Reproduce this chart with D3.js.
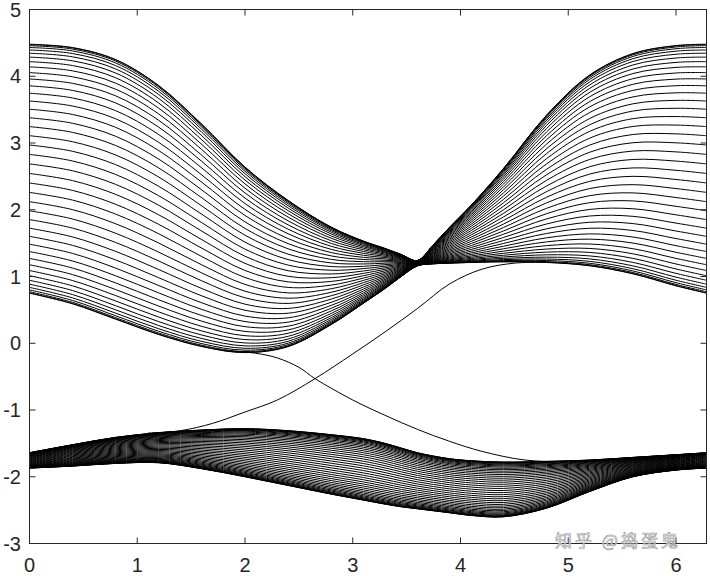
<!DOCTYPE html>
<html><head><meta charset="utf-8">
<script src="https://cdn.jsdelivr.net/npm/d3@7"></script>
<style>body{margin:0;background:#fff}svg{display:block}</style>
</head><body><svg id="c" width="710" height="576"></svg>
<script>
// ---- data ----
const gridX      = [0, 0.4, 0.8, 1.2, 1.6, 2.0, 2.4, 2.8, 3.1, 3.3, 3.45, 3.6, 3.75, 3.9, 4.1, 4.4, 4.8, 5.2, 5.6, 6.0, 6.2832];
const upperTop   = [4.48, 4.43, 4.25, 3.86, 3.28, 2.64, 2.14, 1.74, 1.53, 1.42, 1.33, 1.24, 1.48, 1.74, 2.07, 2.62, 3.42, 4.02, 4.34, 4.46, 4.48];
const upperBot   = [0.75, 0.59, 0.36, 0.13, -0.05, -0.14, -0.05, 0.28, 0.60, 0.82, 1.00, 1.16, 1.19, 1.20, 1.21, 1.22, 1.21, 1.16, 1.04, 0.86, 0.75];
const lowerTop   = [-1.64, -1.52, -1.41, -1.34, -1.30, -1.28, -1.31, -1.37, -1.43, -1.50, -1.57, -1.64, -1.69, -1.73, -1.76, -1.78, -1.77, -1.75, -1.71, -1.67, -1.64];
const lowerBot   = [-1.87, -1.84, -1.80, -1.79, -1.88, -2.00, -2.13, -2.26, -2.35, -2.41, -2.45, -2.48, -2.51, -2.54, -2.58, -2.60, -2.47, -2.22, -2.00, -1.90, -1.87];
// relative position of each line inside its band (0 = lower edge, 1 = upper edge)
const bandLevels = [0, 0.0015, 0.0059, 0.0132, 0.0233, 0.0362, 0.0519, 0.0702, 0.0910, 0.1142, 0.1397,
  0.1672, 0.1968, 0.2282, 0.2611, 0.2955, 0.3310, 0.3675, 0.4048, 0.4426, 0.4808,
  0.5192, 0.5574, 0.5952, 0.6325, 0.6690, 0.7045, 0.7389, 0.7718, 0.8032, 0.8328,
  0.8603, 0.8858, 0.9090, 0.9298, 0.9481, 0.9638, 0.9767, 0.9868, 0.9941, 0.9985, 1];
const edgeRiseX  = [1.1, 1.4, 1.7, 2.0, 2.3, 2.65, 3.0, 3.3, 3.6, 3.9, 4.2, 4.5, 4.8];
const edgeRiseY  = [-1.345, -1.31, -1.20, -1.03, -0.85, -0.53, -0.16, 0.17, 0.52, 0.89, 1.11, 1.20, 1.215];
const edgeFallX  = [1.8, 2.1, 2.3, 2.5, 2.65, 3.0, 3.3, 3.6, 3.9, 4.2, 4.6, 5.0, 5.4];
const edgeFallY  = [-0.11, -0.15, -0.22, -0.36, -0.53, -0.85, -1.08, -1.29, -1.47, -1.62, -1.75, -1.77, -1.735];
const xTicks = [0, 1, 2, 3, 4, 5, 6];
const yTicks = [-3, -2, -1, 0, 1, 2, 3, 4, 5];
const watermark = "知乎 @捣蛋鬼";

// ---- drawing ----
const svg = d3.select("#c");
const x = d3.scaleLinear().domain([0, 6.2832]).range([29.5, 706.5]);
const y = d3.scaleLinear().domain([-3, 5]).range([543.5, 9.5]);

svg.append("defs").append("clipPath").attr("id", "plot")
  .append("rect").attr("x", x(0)).attr("y", y(5)).attr("width", x(6.2832) - x(0)).attr("height", y(-3) - y(5));

const line = d3.line().x(d => x(d[0])).y(d => y(d[1])).curve(d3.curveCatmullRom.alpha(0.5));
const g = svg.append("g").attr("clip-path", "url(#plot)");

function band(top, bot) {
  bandLevels.forEach(f => {
    const pts = gridX.map((gx, i) => [gx, bot[i] + f * (top[i] - bot[i])]);
    g.append("path").attr("d", line(pts)).attr("fill", "none")
      .attr("stroke", "#000").attr("stroke-width", 1);
  });
}
band(upperTop, upperBot);
band(lowerTop, lowerBot);
[[edgeRiseX, edgeRiseY], [edgeFallX, edgeFallY]].forEach(([xs, ys]) => {
  g.append("path").attr("d", line(xs.map((v, i) => [v, ys[i]]))).attr("fill", "none")
    .attr("stroke", "#000").attr("stroke-width", 1);
});

// axes box and ticks (inward, on all four sides)
const ax = svg.append("g").attr("stroke", "#262626").attr("stroke-width", 1).attr("fill", "none");
ax.append("rect").attr("x", x(0)).attr("y", y(5)).attr("width", x(6.2832) - x(0)).attr("height", y(-3) - y(5));
const tl = 6;
xTicks.forEach(t => {
  ax.append("line").attr("x1", x(t)).attr("x2", x(t)).attr("y1", y(-3)).attr("y2", y(-3) - tl);
  ax.append("line").attr("x1", x(t)).attr("x2", x(t)).attr("y1", y(5)).attr("y2", y(5) + tl);
});
yTicks.forEach(t => {
  ax.append("line").attr("y1", y(t)).attr("y2", y(t)).attr("x1", x(0)).attr("x2", x(0) + tl);
  ax.append("line").attr("y1", y(t)).attr("y2", y(t)).attr("x1", x(6.2832)).attr("x2", x(6.2832) - tl);
});
const lab = svg.append("g").attr("font-family", "'Liberation Sans', Arial, sans-serif")
  .attr("font-size", 20).attr("fill", "#262626");
xTicks.forEach(t => lab.append("text").attr("x", x(t)).attr("y", 572).attr("text-anchor", "middle").text(t));
yTicks.forEach(t => lab.append("text").attr("x", 21).attr("y", y(t)).attr("dy", "0.36em").attr("text-anchor", "end").text(t));

// watermark
svg.append("text").attr("x", 555).attr("y", 547)
  .attr("font-family", "'Noto Sans CJK SC', sans-serif").attr("font-size", 17).attr("letter-spacing", 3)
  .attr("fill", "#fff").attr("fill-opacity", 0.85).attr("stroke", "#a0a0a0").attr("stroke-width", 0.7)
  .text(watermark);
</script></body></html>
